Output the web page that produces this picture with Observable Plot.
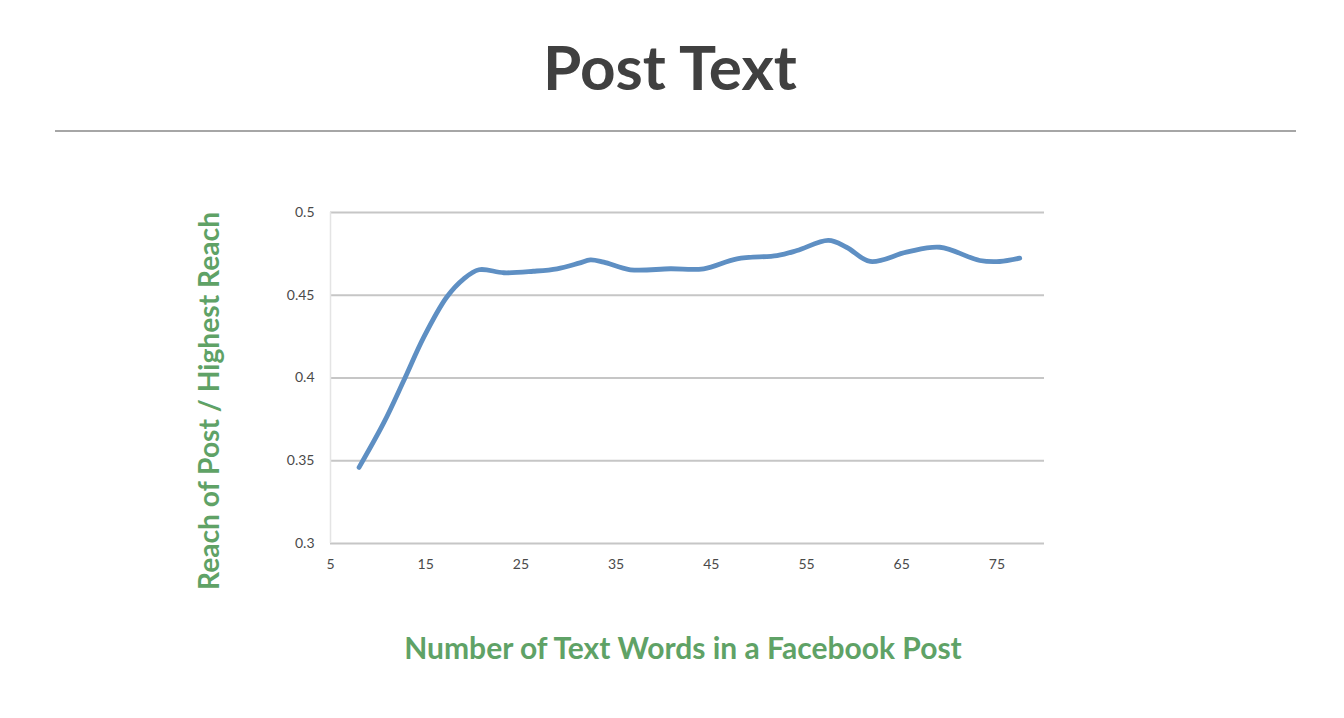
<!DOCTYPE html>
<html><head><meta charset="utf-8">
<script src="https://cdn.jsdelivr.net/npm/d3@7"></script>
<script src="https://cdn.jsdelivr.net/npm/@observablehq/plot@0.6"></script>
<style>
body{margin:0;background:#fff;width:1344px;height:718px;position:relative;overflow:hidden;font-family:Lato,"Open Sans",sans-serif}
#title{position:absolute;left:0;width:1344px;top:35px;text-align:center;margin-left:-2px;font-weight:700;font-size:62px;line-height:1;color:#404040}
#rule{position:absolute;left:55px;width:1241px;top:130px;height:2px;background:#a6a6a6}
#chart{position:absolute;left:270px;top:190px}
#xlabel{position:absolute;left:0;width:1344px;text-align:center;margin-left:11px;top:632px;font-weight:700;font-size:30px;line-height:1;color:#5fa266}
#ylabel{position:absolute;left:208px;top:401px;transform:translate(-50%,-50%) rotate(-90deg);white-space:nowrap;font-weight:700;font-size:28.2px;line-height:1;color:#5fa266}
</style></head>
<body>
<div id="title">Post Text</div>
<div id="rule"></div>
<div id="chart"></div>
<div id="ylabel">Reach of Post / Highest Reach</div>
<div id="xlabel">Number of Text Words in a Facebook Post</div>
<script>
const words = [8, 10.6, 12.7, 14.8, 17.2, 19.0, 20.6, 23.2, 26.3, 28.8, 31.1, 32.3, 33.7, 36.5, 40.7, 44.2, 47.7, 51.9, 54.0, 57.3, 59.2, 61.7, 65.5, 69.0, 73.2, 75.3, 77.4];
const reach = [0.346, 0.373, 0.3985, 0.4247, 0.4488, 0.4599, 0.4654, 0.4636, 0.4645, 0.466, 0.4694, 0.4714, 0.470, 0.4654, 0.466, 0.466, 0.472, 0.474, 0.477, 0.4831, 0.479, 0.4704, 0.476, 0.479, 0.471, 0.4704, 0.4724];
const xTicks = [5, 15, 25, 35, 45, 55, 65, 75];
const yTicks = [0.3, 0.35, 0.4, 0.45, 0.5];

const data = words.map((w, i) => ({w, r: reach[i]}));

const chart = Plot.plot({
  width: 800,
  height: 420,
  marginLeft: 60,
  marginRight: 26,
  marginTop: 22,
  marginBottom: 67,
  style: {fontFamily: "Lato, 'Open Sans', sans-serif", fontSize: "14px", color: "#4a4a4a", background: "transparent"},
  x: {domain: [5, 80], ticks: xTicks, tickFormat: d => String(d), label: null},
  y: {domain: [0.3, 0.5], ticks: yTicks, tickFormat: d => String(d), label: null},
  marks: [
    Plot.ruleY(yTicks, {stroke: "#c6c6c6", strokeWidth: 2}),
    Plot.ruleX([5], {stroke: "#e4e4e4", strokeWidth: 1.5}),
    Plot.axisX({ticks: xTicks, tickSize: 0, tickPadding: 16, tickFormat: d => String(d), label: null}),
    Plot.axisY({ticks: yTicks, tickSize: 0, tickPadding: 16, tickFormat: d => String(d), label: null}),
    Plot.line(data, {x: "w", y: "r", stroke: "#5e8fc3", strokeWidth: 4.8, curve: "catmull-rom", strokeLinecap: "round", strokeLinejoin: "round"})
  ]
});
document.getElementById("chart").appendChild(chart);
</script>
</body></html>
